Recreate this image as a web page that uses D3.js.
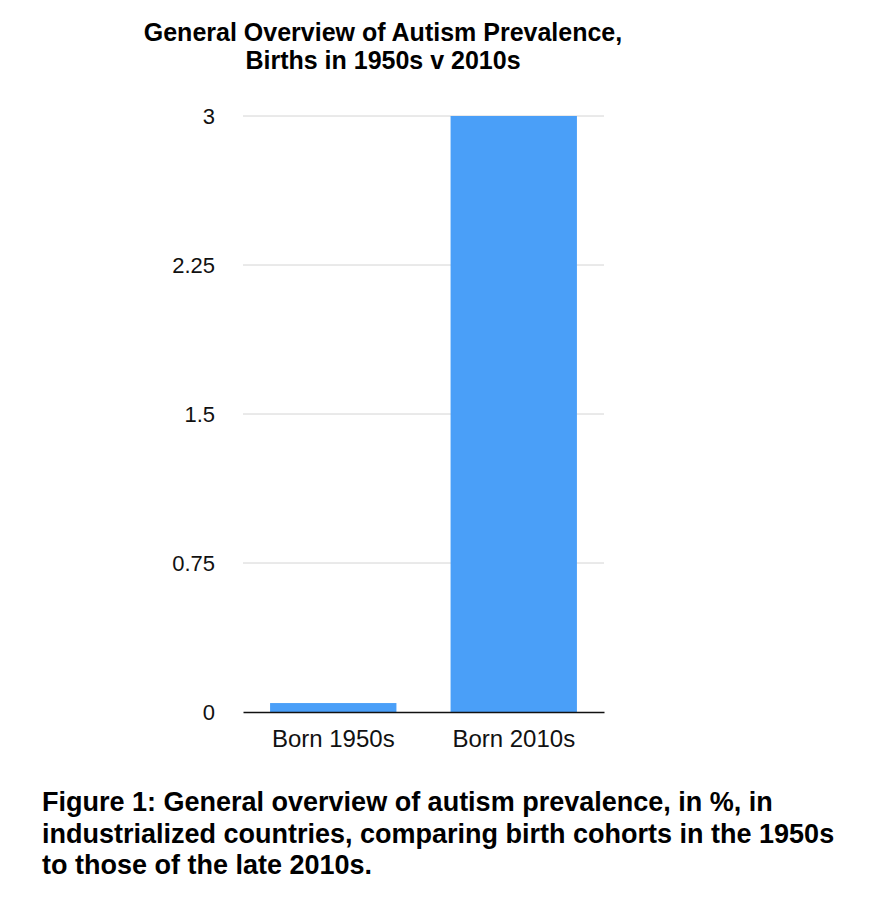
<!DOCTYPE html>
<html>
<head>
<meta charset="utf-8">
<script src="https://cdn.jsdelivr.net/npm/d3@7"></script>
<style>
  body { margin: 0; background: #fff; }
  text { font-family: "Liberation Sans", Arial, Helvetica, sans-serif; }
</style>
</head>
<body>
<script>
// chart data
var categories = ["Born 1950s", "Born 2010s"];
var prevalence = [0.045, 3];
var tickValues = [0, 0.75, 1.5, 2.25, 3];
var tickLabels = ["0", "0.75", "1.5", "2.25", "3"];
var titleLines = ["General Overview of Autism Prevalence,", "Births in 1950s v 2010s"];
var captionLines = [
  "Figure 1: General overview of autism prevalence, in %, in",
  "industrialized countries, comparing birth cohorts in the 1950s",
  "to those of the late 2010s."
];

var svgWidth = 870;
var svgHeight = 902;

var margin = { top: 116, left: 243 };
var width = 361;
var height = 596;

var svg = d3.select("body")
  .append("svg")
  .attr("width", svgWidth)
  .attr("height", svgHeight);

// Title
svg.append("g")
  .selectAll("text")
  .data(titleLines)
  .enter()
  .append("text")
  .attr("x", 383)
  .attr("y", (d, i) => 41 + i * 28)
  .attr("text-anchor", "middle")
  .style("font-size", "25px")
  .style("font-weight", "bold")
  .text(d => d);

var chartGroup = svg.append("g")
  .attr("transform", `translate(${margin.left}, ${margin.top})`);

var xScale = d3.scaleBand()
  .domain(categories)
  .range([0, width])
  .paddingInner(0.3)
  .paddingOuter(0.15);

var yScale = d3.scaleLinear()
  .domain([0, 3])
  .range([height, 0]);

// gridlines
chartGroup.append("g")
  .selectAll("line")
  .data(tickValues.filter(d => d > 0))
  .enter()
  .append("line")
  .attr("x1", 0)
  .attr("x2", width)
  .attr("y1", d => yScale(d))
  .attr("y2", d => yScale(d))
  .attr("stroke", "#d4d4d4")
  .attr("stroke-width", 1);

// bars
chartGroup.append("g")
  .selectAll("rect")
  .data(prevalence)
  .enter()
  .append("rect")
  .attr("x", (d, i) => xScale(categories[i]))
  .attr("width", xScale.bandwidth())
  .attr("y", d => yScale(d))
  .attr("height", d => height - yScale(d))
  .attr("fill", "#4a9ff8");

// y axis labels
var leftAxis = d3.axisLeft(yScale)
  .tickValues(tickValues)
  .tickFormat((d, i) => tickLabels[i])
  .tickSize(0)
  .tickPadding(28);

var yAxisG = chartGroup.append("g").call(leftAxis);
yAxisG.select(".domain").remove();
yAxisG.selectAll("text")
  .style("font-family", "'Liberation Sans', Arial, sans-serif")
  .style("font-size", "22px")
  .attr("fill", "#111");

// x axis
var bottomAxis = d3.axisBottom(xScale).tickSize(0).tickPadding(18);
var xAxisG = chartGroup.append("g")
  .attr("transform", `translate(0, ${height})`)
  .call(bottomAxis);
xAxisG.select(".domain")
  .attr("stroke", "#111")
  .attr("stroke-width", 1.6);
xAxisG.selectAll("text")
  .style("font-family", "'Liberation Sans', Arial, sans-serif")
  .style("font-size", "24px")
  .attr("fill", "#111");

// caption
svg.append("g")
  .selectAll("text")
  .data(captionLines)
  .enter()
  .append("text")
  .attr("x", 42)
  .attr("y", (d, i) => 811 + i * 31.5)
  .style("font-size", "27px")
  .style("font-weight", "bold")
  .text(d => d);
</script>
</body>
</html>
